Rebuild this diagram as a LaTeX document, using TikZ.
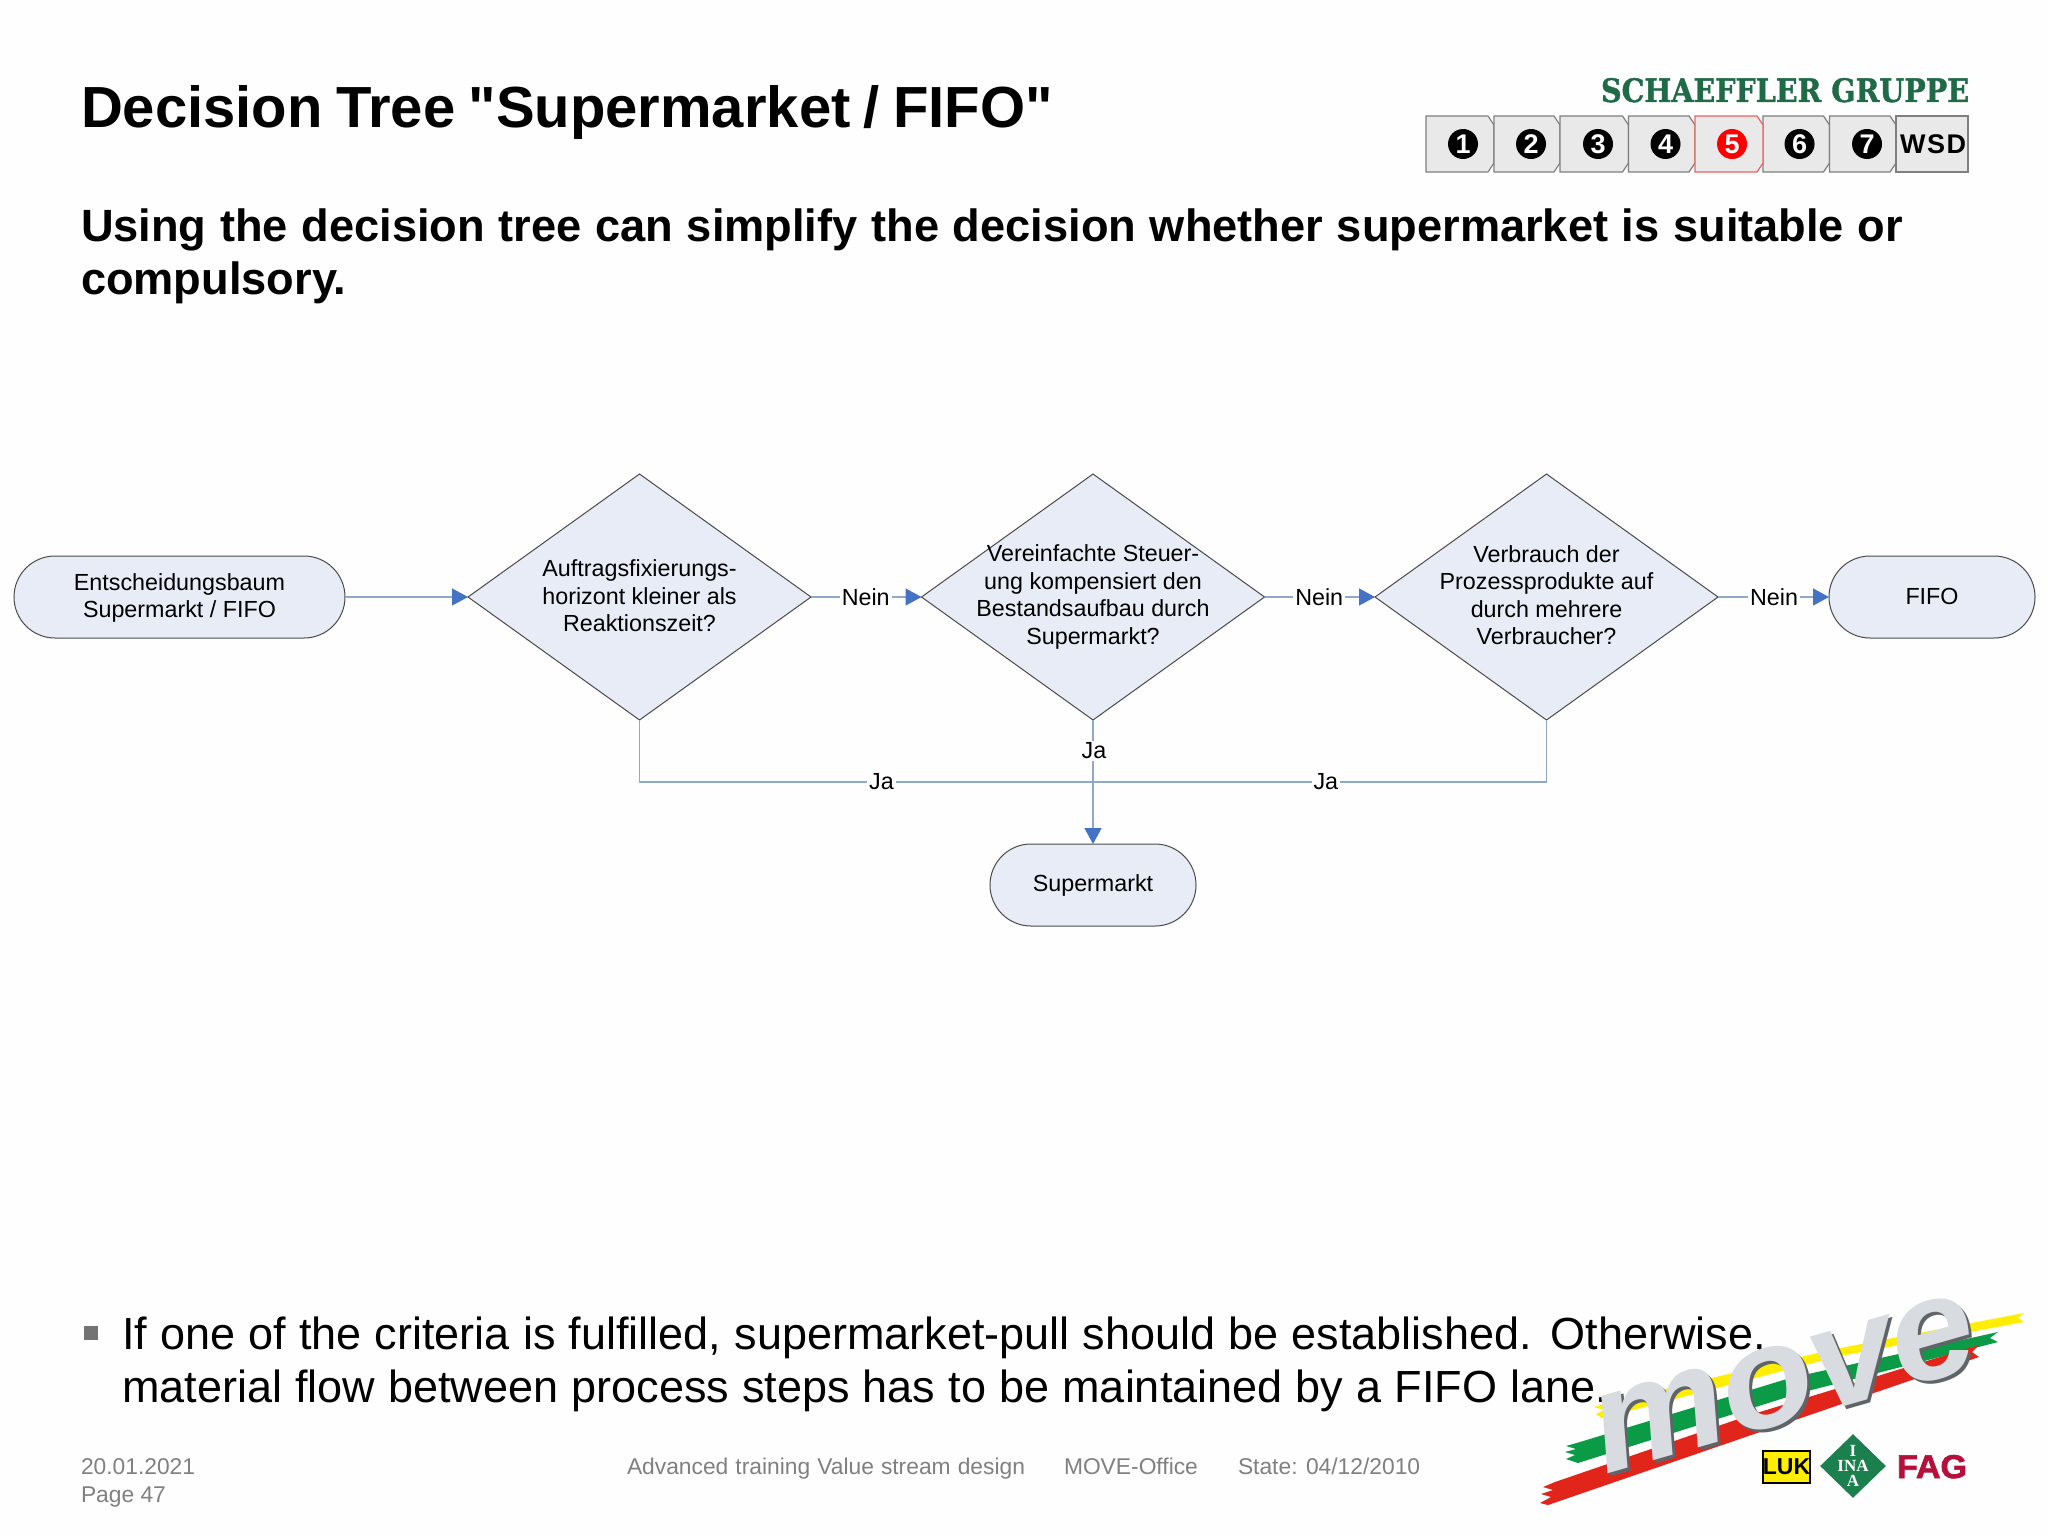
\documentclass[tikz,border=0pt]{standalone}
\usepackage{fontspec}
\setmainfont{Liberation Sans}
\newfontfamily\titlef{Liberation Sans}
\newfontfamily\serifb[BoldFont=Liberation Serif Bold]{Liberation Serif}
\newfontfamily\slabf[FakeBold=1.2]{DejaVu Serif Bold}
\newfontfamily\fagf[FakeBold=2]{Liberation Sans Bold}
\usetikzlibrary{shapes.geometric,arrows.meta}
\definecolor{bg}{HTML}{FEFEFE}
\definecolor{dfill}{HTML}{E8ECF6}
\definecolor{dline}{HTML}{4A4A4A}
\definecolor{conn}{HTML}{8FAAC8}
\definecolor{tipc}{HTML}{4472C4}
\definecolor{footc}{HTML}{808080}
\definecolor{stepf}{HTML}{E9E9E9}
\definecolor{stepl}{HTML}{7F7F7F}
\definecolor{stepr}{HTML}{F06060}
\definecolor{schg}{HTML}{1F6B47}
\definecolor{ylw}{HTML}{FFEE00}
\definecolor{grn}{HTML}{0B9A45}
\definecolor{rd}{HTML}{E1251B}
\definecolor{mv}{HTML}{D8DCE0}
\definecolor{mvs}{HTML}{5F6468}
\definecolor{fagc}{HTML}{B5103C}
\definecolor{inac}{HTML}{1B7F4E}
\newcommand{\tightsp}{\spaceskip=0.12em plus 1em minus 0.02em\relax}
\tikzset{
  x=0.5pt,y=-0.5pt,
  txt/.style={anchor=base west,inner sep=0pt,outer sep=0pt},
  dia/.style={diamond,draw=dline,fill=dfill,line width=0.5pt,minimum width=171.5pt,minimum height=123pt,inner sep=0pt,outer sep=0pt},
  dtext/.style={align=center,inner sep=0pt,font=\fontsize{11.65pt}{13.7pt}\selectfont},
  term/.style={draw=dline,fill=dfill,line width=0.5pt,rounded corners=20.5pt,minimum height=41pt,align=center,inner sep=0pt,outer sep=0pt,font=\fontsize{11.65pt}{13.7pt}\selectfont},
  lab/.style={fill=bg,inner sep=1pt,font=\fontsize{11.65pt}{13.7pt}\selectfont},
  con/.style={draw=conn,line width=0.7pt},
  arr/.style={con,-{Triangle[length=8pt,width=8.5pt,color=tipc,fill=tipc]}},
  stepbox/.style={draw=stepl,fill=stepf,line width=0.6pt},
  num/.style={circle,fill=black,text=white,inner sep=0pt,minimum size=15pt,font=\fontsize{13.5pt}{13.5pt}\selectfont\bfseries},
}
\begin{document}
\begin{tikzpicture}
\useasboundingbox (0,0) rectangle (2048,1536);
\fill[bg] (0,0) rectangle (2048,1536);
% title and intro
\node[txt] (title) at (81,127.5) {\titlef\fontsize{29pt}{30pt}\selectfont\bfseries\tightsp\makebox[486pt][s]{Decision Tree "Supermarket / FIFO"}};
\node[txt] (intro1) at (81,241.5) {\fontsize{22.6pt}{26pt}\selectfont\bfseries\tightsp\makebox[911pt][s]{Using the decision tree can simplify the decision whether supermarket is suitable or}};
\node[txt] (intro2) at (81,294.5) {\fontsize{22.6pt}{26pt}\selectfont\bfseries compulsory.};
% brand line
\node[txt] (brand) at (1601,102) {\resizebox{184pt}{12pt}{\slabf\textcolor{schg}{SCHAEFFLER GRUPPE}}};
% step bar
\foreach \a/\b/\c in {1426/1494/stepl,1494/1560/stepl,1560/1628.5/stepl,1628.5/1695/stepl,1763/1829.5/stepl,1829.5/1896/stepl}{
  \path[stepbox,draw=\c] (\a,116) -- (\b-6,116) -- (\b,125) -- (\b,163) -- (\b-6,172) -- (\a,172) -- cycle;
}
\path[stepbox,draw=stepr] (1695,116) -- (1757,116) -- (1763,125) -- (1763,163) -- (1757,172) -- (1695,172) -- cycle;
\path[stepbox] (1896,116) rectangle (1968,172);
\node[num] (n1) at (1463,144) {1};
\node[num] (n2) at (1531,144) {2};
\node[num] (n3) at (1598,144) {3};
\node[num] (n4) at (1665.5,144) {4};
\node[num,fill=red] (n5) at (1732,144) {5};
\node[num] (n6) at (1799.5,144) {6};
\node[num] (n7) at (1867,144) {7};
\node[inner sep=0pt,font=\fontsize{13.5pt}{15pt}\selectfont\bfseries] (wsd) at (1933,144) {\makebox[33pt][s]{W\hfil S\hfil D}};
% flow chart
\node[term,minimum width=165.5pt,label={[dtext,yshift=-0.6pt]center:Entscheidungsbaum\\Supermarkt / FIFO}] (start) at (179.5,597) {};
\node[dia,label={[dtext,yshift=0.6pt]center:Auftragsfixierungs-\\horizont kleiner als\\Reaktionszeit?}] (d1) at (639.5,597) {};
\node[dia,label={[dtext]center:Vereinfachte Steuer-\\ung kompensiert den\\Bestandsaufbau durch\\Supermarkt?}] (d2) at (1093,597) {};
\node[dia,label={[dtext,yshift=1pt]center:Verbrauch der\\Prozessprodukte auf\\durch mehrere\\Verbraucher?}] (d3) at (1546.5,597) {};
\node[term,minimum width=103pt,label={[dtext,yshift=0.5pt]center:FIFO}] (fifo) at (1932,597) {};
\node[term,minimum width=103pt] (sm) at (1093,885) {Supermarkt};
\coordinate (jn) at (1093,782);
\draw[arr] (start) -- (d1);
\draw[arr] (d1) -- node[lab,pos=.495] (l1) {Nein} (d2);
\draw[arr] (d2) -- node[lab,pos=.495] (l2) {Nein} (d3);
\draw[arr] (d3) -- node[lab,pos=.505] (l3) {Nein} (fifo);
\draw[con] (d1.south) |- node[lab,pos=.7667] (j1) {Ja} (jn);
\draw[con] (d3.south) |- node[lab,pos=.7433] (j3) {Ja} (jn);
\draw[arr] (d2.south) -- (sm.north);
\node[lab] (j2) at (1094,751) {Ja};
% bullet text
\fill[footc!90!black] (84,1326) rectangle (98,1340);
\node[txt] (b1) at (122,1349) {\fontsize{22.5pt}{26pt}\selectfont\makebox[822pt][s]{If one of the criteria is fulfilled, supermarket-pull should be established. Otherwise,}};
\node[txt] (b2) at (122,1402) {\fontsize{22.5pt}{26pt}\selectfont\makebox[743pt][s]{material flow between process steps has to be maintained by a FIFO lane.}};
% footer
\begin{scope}[every node/.append style={txt,text=footc,font=\fontsize{11.4pt}{14pt}\selectfont}]
\node (f1) at (81,1474) {20.01.2021};
\node (f2) at (81,1502) {Page 47};
\node (f3) at (627,1474) {\makebox[199pt][s]{Advanced training Value stream design}};
\node (f4) at (1064,1474) {MOVE-Office};
\node (f5) at (1238,1474) {State: 04/12/2010};
\end{scope}
% move logo stripes
\fill[ylw] (1606,1403) -- (1594,1407) -- (1604,1410) -- (1596,1414) -- (1602,1418) -- (1840,1356) -- (2024,1322) -- (2018,1318) -- (2024,1313) -- (1830,1350) -- cycle;
\fill[grn] (1580,1442) -- (1566,1446) -- (1576,1449) -- (1565,1452) -- (1575,1455) -- (1566,1459) -- (1578,1463) -- (1800,1393) -- (1998,1342) -- (1990,1338) -- (1998,1332) -- (1790,1378) -- cycle;
\fill[rd] (1555,1482) -- (1543,1487) -- (1553,1490) -- (1541,1494) -- (1551,1497) -- (1540,1503) -- (1548,1505) -- (1760,1432) -- (1979,1357) -- (1972,1352) -- (1979,1345) -- (1750,1415) -- cycle;
\node[text=mvs,rotate=16,inner sep=0pt,font=\fontsize{72pt}{72pt}\selectfont\bfseries\itshape] (mvshadow) at (1787.5,1386.5) {\scalebox{1.05}[1]{move}};
\node[text=mv,rotate=16,inner sep=0pt,font=\fontsize{72pt}{72pt}\selectfont\bfseries\itshape] (mvtext) at (1784.5,1383.5) {\scalebox{1.05}[1]{move}};
% brand logos
\node[draw=black,fill=ylw,line width=0.8pt,minimum width=22pt,minimum height=16pt,inner sep=0pt,font=\fontsize{11.5pt}{13pt}\selectfont\bfseries] (luk) at (1786.5,1467) {LUK};
\node[diamond,fill=inac,minimum width=33pt,minimum height=32pt,inner sep=0pt] (ina) at (1853,1466) {};
\node[text=white,align=center,inner sep=0pt,font=\fontsize{8.5pt}{7.5pt}\selectfont\serifb\bfseries] (inat) at (ina) {I\\INA\\A};
\node[txt,text=fagc] (fag) at (1897,1478) {\resizebox{35pt}{11.5pt}{\fagf FAG}};
\end{tikzpicture}
\end{document}
